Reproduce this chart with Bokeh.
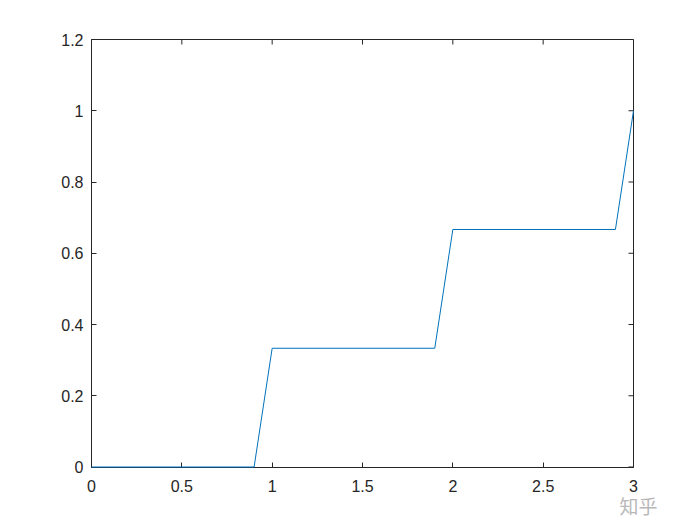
import math
from bokeh.plotting import figure
from bokeh.models import Range1d, FixedTicker, Title
from bokeh.embed import file_html
from bokeh.resources import INLINE

x_vals = [0.0, 0.9, 1.0, 1.9, 2.0, 2.9, 3.0]
y_vals = [0.0, 0.0, 0.3333, 0.3333, 0.6667, 0.6667, 1.0]
x_ticks = [0, 0.5, 1, 1.5, 2, 2.5, 3]
y_ticks = [0, 0.2, 0.4, 0.6, 0.8, 1.0, 1.2]
x_labels = {0: "0", 0.5: "0.5", 1: "1", 1.5: "1.5", 2: "2", 2.5: "2.5", 3: "3"}
y_labels = {0: "0", 0.2: "0.2", 0.4: "0.4", 0.6: "0.6", 0.8: "0.8", 1.0: "1", 1.2: "1.2"}
x_min, x_max = 0, 3
y_min, y_max = 0, 1.2

FONT = "Liberation Sans"
AX = "#262626"

p = figure(width=700, height=525, output_backend="svg", toolbar_location=None,
           x_range=Range1d(x_min, x_max), y_range=Range1d(y_min - 0.0014, y_max),
           min_border_left=91, min_border_right=67, min_border_top=39, min_border_bottom=58)
p.background_fill_color = "white"
p.border_fill_color = "white"
p.outline_line_color = AX
p.outline_line_width = 1
p.grid.visible = False

for ax, ticks, labels, standoff in ((p.xaxis[0], x_ticks, x_labels, 12),
                                    (p.yaxis[0], y_ticks, y_labels, 8)):
    ax.ticker = FixedTicker(ticks=ticks)
    ax.major_label_overrides = labels
    ax.major_tick_in = 5
    ax.major_tick_out = 0
    ax.minor_tick_line_color = None
    ax.axis_line_color = AX
    ax.major_tick_line_color = AX
    ax.major_label_text_font = FONT
    ax.major_label_text_color = AX
    ax.major_label_text_font_size = "16px"
    ax.major_label_standoff = standoff

# box ticks on top and right edges (inward)
p.ray(x=x_ticks, y=[y_max] * len(x_ticks), length=5, length_units="screen",
      angle=-math.pi / 2, line_color=AX, line_width=1)
p.ray(x=[x_max] * len(y_ticks), y=y_ticks, length=5, length_units="screen",
      angle=math.pi, line_color=AX, line_width=1)

r = p.line(x_vals, y_vals, line_color="#0072BD", line_width=1)
r.level = "overlay"

wm = Title(text="知乎", align="right", offset=-24, standoff=-10,
           text_font="Noto Sans CJK SC", text_font_size="19px", text_color="#b8b8b8",
           text_font_style="normal")
p.add_layout(wm, "below")

open("out.html", "w").write(file_html(p, INLINE))
